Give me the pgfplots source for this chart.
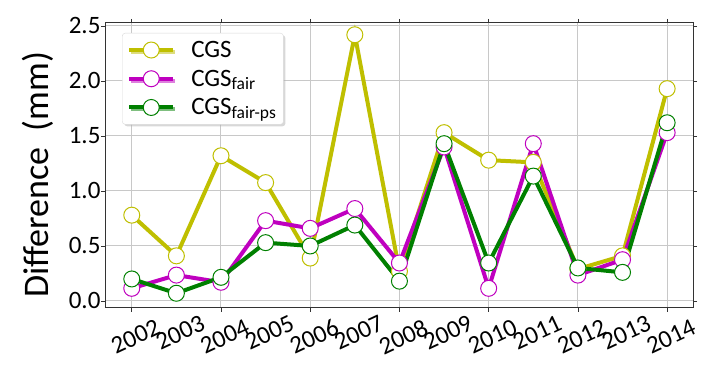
\documentclass[border=0pt]{standalone}
\usepackage{fontspec}
\setmainfont{Carlito}
\usepackage{pgfplots}
\pgfplotsset{compat=1.18}
\usetikzlibrary{shadows}
\definecolor{colY}{HTML}{BFBF00}
\definecolor{colM}{HTML}{BF00BF}
\definecolor{colG}{HTML}{008000}
\definecolor{gridc}{HTML}{C8C8C8}
\begin{document}
\begin{tikzpicture}
\path[use as bounding box] (0pt,0pt) rectangle (720pt,377pt);
\begin{axis}[
  at={(105pt,69pt)}, anchor=south west,
  scale only axis, width=588pt, height=285pt,
  xmin=-0.6, xmax=12.58, ymin=-0.064, ymax=2.527,
  xtick={0,2,...,12},
  xticklabels={2002,2004,2006,2008,2010,2012,2014},
  extra x ticks={1,3,...,11},
  extra x tick labels={2003,2005,2007,2009,2011,2013},
  extra x tick style={xmajorgrids=false, major tick length=0pt},
  ytick={0,0.5,...,2.5},
  grid=major,
  major grid style={gridc, line width=1pt},
  tick align=outside,
  major tick length=4pt,
  tick style={black!80, line width=0.8pt},
  axis line style={black!80, line width=1pt},
  /pgf/number format/assume math mode=true,
  yticklabel style={font=\fontsize{25}{28}\selectfont, xshift=3pt, /pgf/number format/.cd, fixed, fixed zerofill, precision=1},
  xticklabel style={font=\fontsize{25}{28}\selectfont, rotate=25, anchor=center, yshift=-24pt, xshift=-7pt},
  ylabel={Difference\ \ (mm)},
  every axis y label/.style={at={(axis description cs:-0.114,0.467)}, anchor=center, rotate=90, font=\fontsize{36}{40}\selectfont},
  legend style={at={(rel axis cs:0.029,0.965)}, anchor=north west,
    font=\fontsize{25}{28}\selectfont, draw=black!15, rounded corners=3pt,
    fill=white, drop shadow={shadow xshift=2pt, shadow yshift=-2pt, fill=black!30},
    row sep=7pt, inner xsep=5pt, inner ysep=6pt,
    /tikz/every odd column/.append style={column sep=14pt}},
  legend cell align=left,
  legend image code/.code={\draw[mark repeat=2,mark phase=2,#1] plot coordinates {(0pt,0pt) (22pt,0pt) (44pt,0pt)};},
  every axis plot/.append style={line width=4pt, mark=*, mark size=8pt},
]
\addplot[colY, mark options={fill=white, draw=colY, line width=1pt, solid}] coordinates {
(0,0.78) (1,0.41) (2,1.32) (3,1.076) (4,0.39) (5,2.42) (6,0.27) (7,1.53) (8,1.28) (9,1.26) (10,0.29) (11,0.41) (12,1.93)};
\addlegendentry{CGS}
\addplot[colM, mark options={fill=white, draw=colM, line width=1pt, solid}] coordinates {
(0,0.115) (1,0.235) (2,0.17) (3,0.73) (4,0.66) (5,0.84) (6,0.345) (7,1.40) (8,0.115) (9,1.43) (10,0.235) (11,0.375) (12,1.53)};
\addlegendentry{CGS\textsubscript{fair}}
\addplot[colG, mark options={fill=white, draw=colG, line width=1pt, solid}] coordinates {
(0,0.20) (1,0.07) (2,0.215) (3,0.53) (4,0.50) (5,0.69) (6,0.18) (7,1.43) (8,0.345) (9,1.135) (10,0.30) (11,0.26) (12,1.62)};
\addlegendentry{CGS\textsubscript{fair-ps}}
\end{axis}
\end{tikzpicture}
\end{document}
